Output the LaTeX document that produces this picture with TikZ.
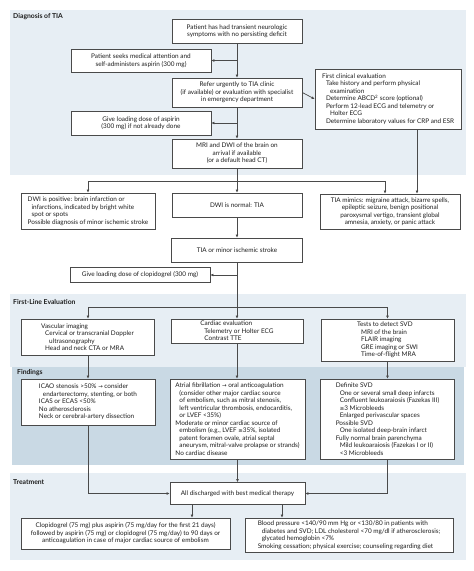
\documentclass[tikz,border=0pt]{standalone}
\usepackage{fontspec}
\setmainfont{Lato}
\newfontfamily\symf{DejaVu Sans}[Scale=0.85]
\usetikzlibrary{arrows.meta}
\newcommand{\rarr}{{\symf →}}
\newcommand{\gee}{{\symf ≥}}
\newcommand{\ind}{\hspace*{4pt}}
\definecolor{panel}{HTML}{E7EEF4}
\definecolor{findp}{HTML}{C9D9E4}
\definecolor{linec}{HTML}{4A4A4A}
\definecolor{txt}{HTML}{1E1E1E}
\tikzset{
  box/.style={draw=linec, fill=white, line width=0.7pt, inner sep=2pt, align=left,
    font=\fontsize{6.4}{7.5}\selectfont, text=txt},
  cbox/.style={box, align=center},
  conn/.style={draw=linec, line width=0.7pt, -{Latex[length=3pt,width=2.8pt]}},
  plain/.style={draw=linec, line width=0.7pt},
  head/.style={font=\fontsize{6.8}{8}\selectfont\bfseries, text=txt, anchor=west, inner sep=0pt}
}
\begin{document}
\begin{tikzpicture}[x=1pt,y=-1pt]
\useasboundingbox (0,0) rectangle (474,571);
% panels
\fill[panel] (10,10) rectangle (466,175);
\fill[panel] (10,294) rectangle (466,367);
\fill[findp] (12,367) rectangle (464,465);
\fill[panel] (10,473) rectangle (466,560);
\node[head] (h1) at (13,17) {Diagnosis of TIA};
\node[head] (h2) at (13,302) {First-Line Evaluation};
\node[head] (h3) at (17,373) {Findings};
\node[head] (h4) at (13,482) {Treatment};

% boxes
\node[cbox, minimum width=130, minimum height=24] (p) at (237,31)
  {Patient has had transient neurologic\\symptoms with no persisting deficit};
\node[cbox, minimum width=140, minimum height=23] (seek) at (141,60.5)
  {Patient seeks medical attention and\\self-administers aspirin (300 mg)};
\node[cbox, minimum width=130, minimum height=29] (refer) at (237,92.5)
  {Refer urgently to TIA clinic\\(if available) or evaluation with specialist\\in emergency department};
\node[box, minimum width=146, minimum height=60] (first) at (388,99)
  {First clinical evaluation\\\ind Take history and perform physical\\\ind\ind examination\\\ind Determine ABCD\textsuperscript{2} score (optional)\\\ind Perform 12-lead ECG and telemetry or\\\ind\ind Holter ECG\\\ind Determine laboratory values for CRP and ESR};
\node[cbox, minimum width=140, minimum height=24] (asp) at (141,123)
  {Give loading dose of aspirin\\(300 mg) if not already done};
\node[cbox, minimum width=130, minimum height=29] (mri) at (237,153.5)
  {MRI and DWI of the brain on\\arrival if available\\(or a default head CT)};
\node[box, minimum width=134, minimum height=36] (dwipos) at (88,211)
  {DWI is positive: brain infarction or\\\ind infarctions, indicated by bright white\\\ind spot or spots\\Possible diagnosis of minor ischemic stroke};
\node[cbox, minimum width=130, minimum height=24] (dwineg) at (237,205)
  {DWI is normal: TIA};
\node[cbox, minimum width=140, minimum height=35] (mim) at (390,211.5)
  {TIA mimics: migraine attack, bizarre spells,\\epileptic seizure, benign positional\\paroxysmal vertigo, transient global\\amnesia, anxiety, or panic attack};
\node[cbox, minimum width=131, minimum height=24] (tia) at (237,250)
  {TIA or minor ischemic stroke};
\node[cbox, minimum width=140, minimum height=15] (clop) at (140,275)
  {Give loading dose of clopidogrel (300 mg)};
\node[box, minimum width=133, minimum height=36] (vasc) at (87.5,337)
  {Vascular imaging\\\ind Cervical or transcranial Doppler\\\ind\ind ultrasonography\\\ind Head and neck CTA or MRA};
\node[box, minimum width=132, minimum height=24] (card) at (237,331)
  {Cardiac evaluation\\\ind Telemetry or Holter ECG\\\ind Contrast TTE};
\node[box, minimum width=133, minimum height=42] (svd) at (387.5,340)
  {Tests to detect SVD\\\ind MRI of the brain\\\ind FLAIR imaging\\\ind GRE imaging or SWI\\\ind Time-of-flight MRA};
\node[box, minimum width=134, minimum height=46] (icao) at (88,402)
  {ICAO stenosis >50\% \rarr{} consider\\\ind endarterectomy, stenting, or both\\ICAS or ECAS <50\%\\No atherosclerosis\\Neck or cerebral-artery dissection};
\node[box, minimum width=135, minimum height=80] (af) at (237.5,419)
  {Atrial fibrillation \rarr{} oral anticoagulation\\\ind (consider other major cardiac source\\\ind of embolism, such as mitral stenosis,\\\ind left ventricular thrombosis, endocarditis,\\\ind or LVEF <35\%)\\Moderate or minor cardiac source of\\\ind embolism (e.g., LVEF \gee{}35\%, isolated\\\ind patent foramen ovale, atrial septal\\\ind aneurysm, mitral-valve prolapse or strands)\\No cardiac disease};
\node[box, minimum width=134, minimum height=80] (svdf) at (387.5,419)
  {Definite SVD\\\ind One or several small deep infarcts\\\ind Confluent leukoaraiosis (Fazekas III)\\\ind \gee{}3 Microbleeds\\\ind Enlarged perivascular spaces\\Possible SVD\\\ind One isolated deep-brain infarct\\Fully normal brain parenchyma\\\ind Mild leukoaraiosis (Fazekas I or II)\\\ind <3 Microbleeds};
\node[cbox, minimum width=135, minimum height=22] (all) at (237.5,493.5)
  {All discharged with best medical therapy};
\node[cbox, minimum width=209, minimum height=31] (t1) at (125.5,533.5)
  {Clopidogrel (75 mg) plus aspirin (75 mg/day for the first 21 days)\\followed by aspirin (75 mg) or clopidogrel (75 mg/day) to 90 days or\\anticoagulation in case of major cardiac source of embolism};
\node[box, minimum width=208, minimum height=34] (t2) at (349,535)
  {Blood pressure <140/90 mm Hg or <130/80 in patients with\\\ind diabetes and SVD; LDL cholesterol <70 mg/dl if atherosclerosis;\\\ind glycated hemoglobin <7\%\\Smoking cessation; physical exercise; counseling regarding diet};

% connectors
\coordinate (b1) at (237,60.5);
\coordinate (b2) at (237,123);
\coordinate (b3) at (237,275);
\draw[conn] (p.south) -- (refer.north);
\draw[conn] (b1) -- (seek.east);
\draw[conn] (refer.south) -- (mri.north);
\draw[conn] (b2) -- (asp.east);
\draw[conn] (refer.east) -- (first.west);
\draw[conn] (mri.south) -- (dwineg.north);
\coordinate (h5l) at (88,181);
\coordinate (h5r) at (385,181);
\draw[plain] (h5l) -- (h5r);
\draw[conn] (h5l) -- (dwipos.north);
\draw[conn] (h5r) -- (h5r |- mim.north);
\draw[conn] (first.south -| 417,0) -- (417,0 |- mim.north);
\draw[conn] (dwineg.south) -- (tia.north);
\draw[conn] (tia.south) -- (card.north);
\draw[conn] (b3) -- (clop.east);
\coordinate (h6l) at (88,307);
\coordinate (h6r) at (387.5,307);
\draw[plain] (h6l) -- (h6r);
\draw[conn] (h6l) -- (h6l |- vasc.north);
\draw[conn] (h6r) -- (svd.north);
\draw[conn] (vasc.south -| icao.north) -- (icao.north);
\draw[conn] (card.south) -- (af.north -| card.south);
\draw[conn] (svd.south) -- (svdf.north);
\draw[conn] (af.south -| all.north) -- (all.north);
\draw[conn] (icao.south) |- (all.west);
\draw[conn] (svdf.south) |- (all.east);
\draw[conn] (all.south -| 192,0) -- (192,0 |- t1.north);
\draw[conn] (all.south -| 282,0) -- (282,0 |- t2.north);
\end{tikzpicture}
\end{document}
